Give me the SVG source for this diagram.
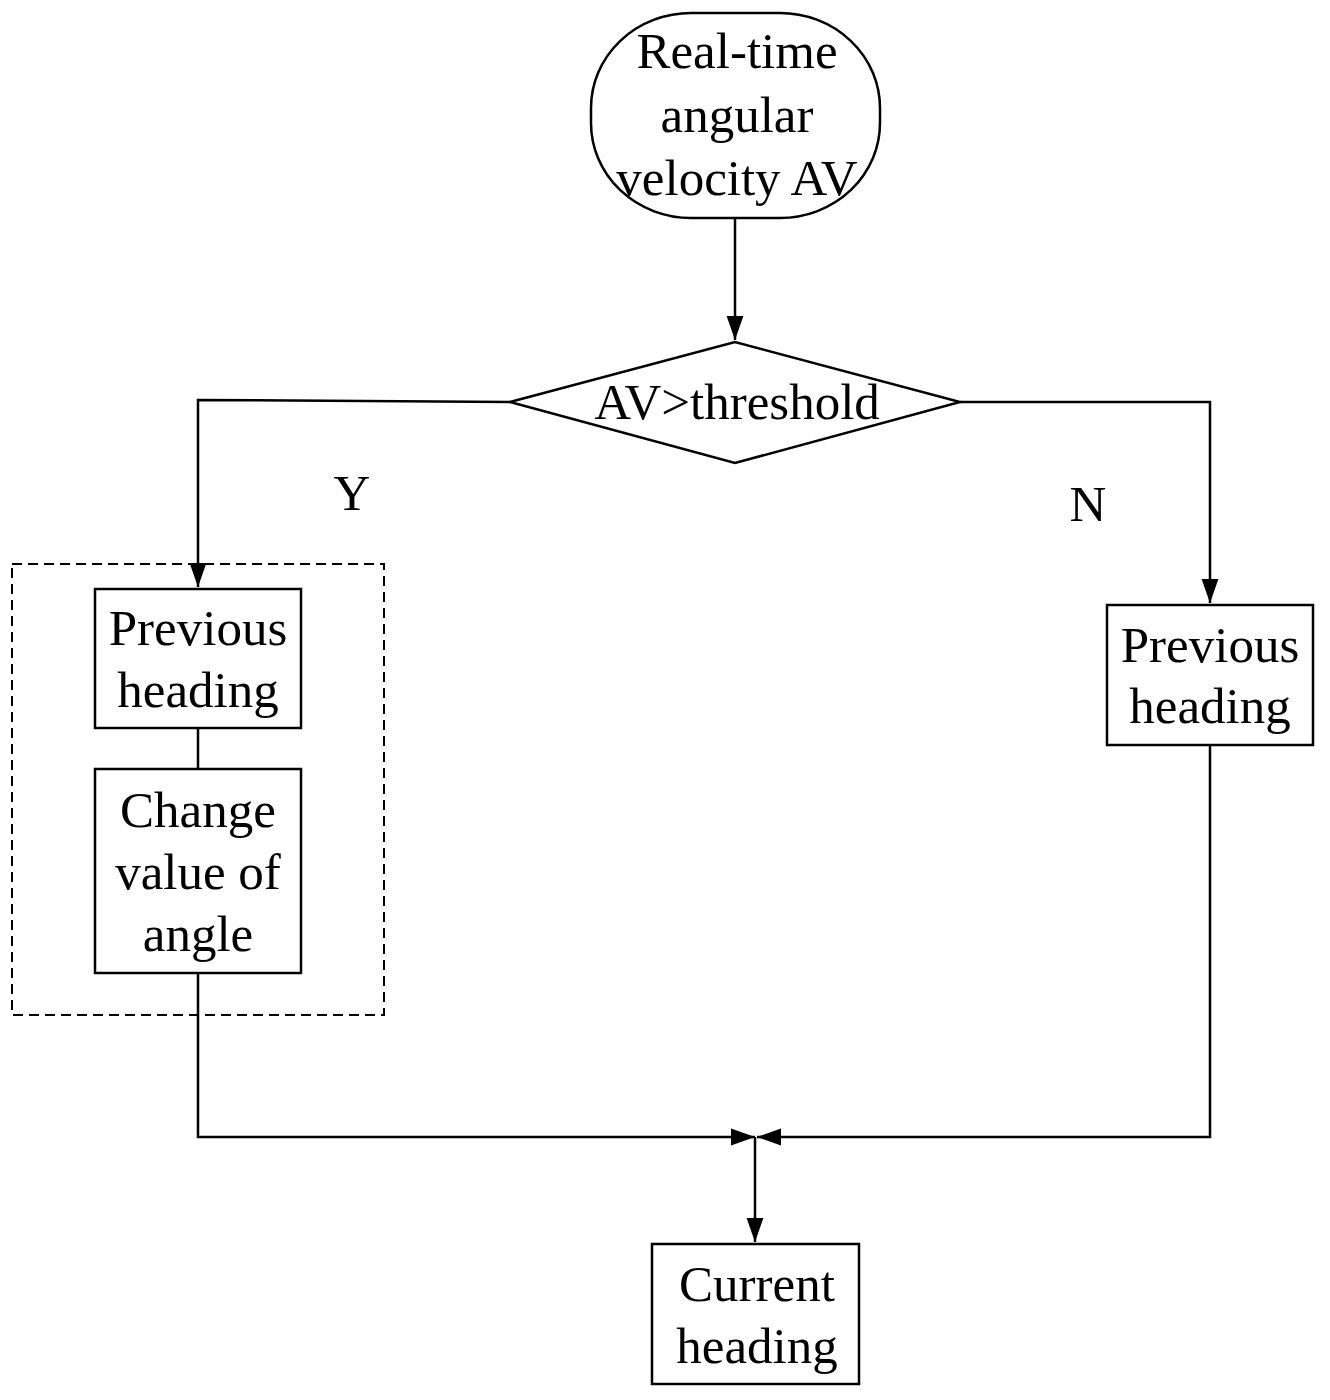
<svg xmlns="http://www.w3.org/2000/svg" width="1330" height="1400" viewBox="0 0 1330 1400">
<style>
.s{fill:#fff;stroke:#000;stroke-width:2.5}
.l{fill:none;stroke:#000;stroke-width:2.5}
text{font-family:"Liberation Serif",serif;font-size:51px;text-anchor:middle;fill:#000}
</style>
<defs><marker id="b" viewBox="0 0 10 10" refX="10" refY="5" markerWidth="24" markerHeight="24" markerUnits="userSpaceOnUse" orient="auto"><path d="M0,1.5L10,5L0,8.5z"/></marker></defs>
<g id="connectors">
<path class="l" d="M735,218V340" marker-end="url(#b)"/>
<path class="l" d="M510,402L198,400V587" marker-end="url(#b)"/>
<path class="l" d="M960,402H1210V603" marker-end="url(#b)"/>
<path class="l" d="M198,728V769"/>
<path class="l" d="M198,973V1137H755" marker-end="url(#b)"/>
<path class="l" d="M1210,745V1137H757" marker-end="url(#b)"/>
<path class="l" d="M755,1137V1242" marker-end="url(#b)"/>
</g>
<g id="start"><rect class="s" x="591" y="13" width="289" height="205" rx="100" ry="95"/>
<text x="737" y="68">Real-time</text><text x="737" y="132">angular</text><text x="737" y="195">velocity AV</text></g>
<g id="decision"><path class="s" d="M510,402L735,342L960,402L735,463z"/><text x="737" y="419">AV&gt;threshold</text></g>
<text x="352" y="510">Y</text><text x="1088" y="521">N</text>
<g id="group"><rect x="12" y="564" width="372" height="451" fill="none" stroke="#000" stroke-width="2" stroke-dasharray="10,6"/></g>
<g id="prevL"><rect class="s" x="95" y="589" width="206" height="139"/><text x="198" y="645">Previous</text><text x="198" y="707">heading</text></g>
<g id="change"><rect class="s" x="95" y="769" width="206" height="204"/><text x="198" y="827">Change</text><text x="198" y="889">value of</text><text x="198" y="951">angle</text></g>
<g id="prevR"><rect class="s" x="1107" y="605" width="206" height="140"/><text x="1210" y="662">Previous</text><text x="1210" y="723">heading</text></g>
<g id="current"><rect class="s" x="652" y="1244" width="207" height="140"/><text x="757" y="1301">Current</text><text x="757" y="1363">heading</text></g>
</svg>
